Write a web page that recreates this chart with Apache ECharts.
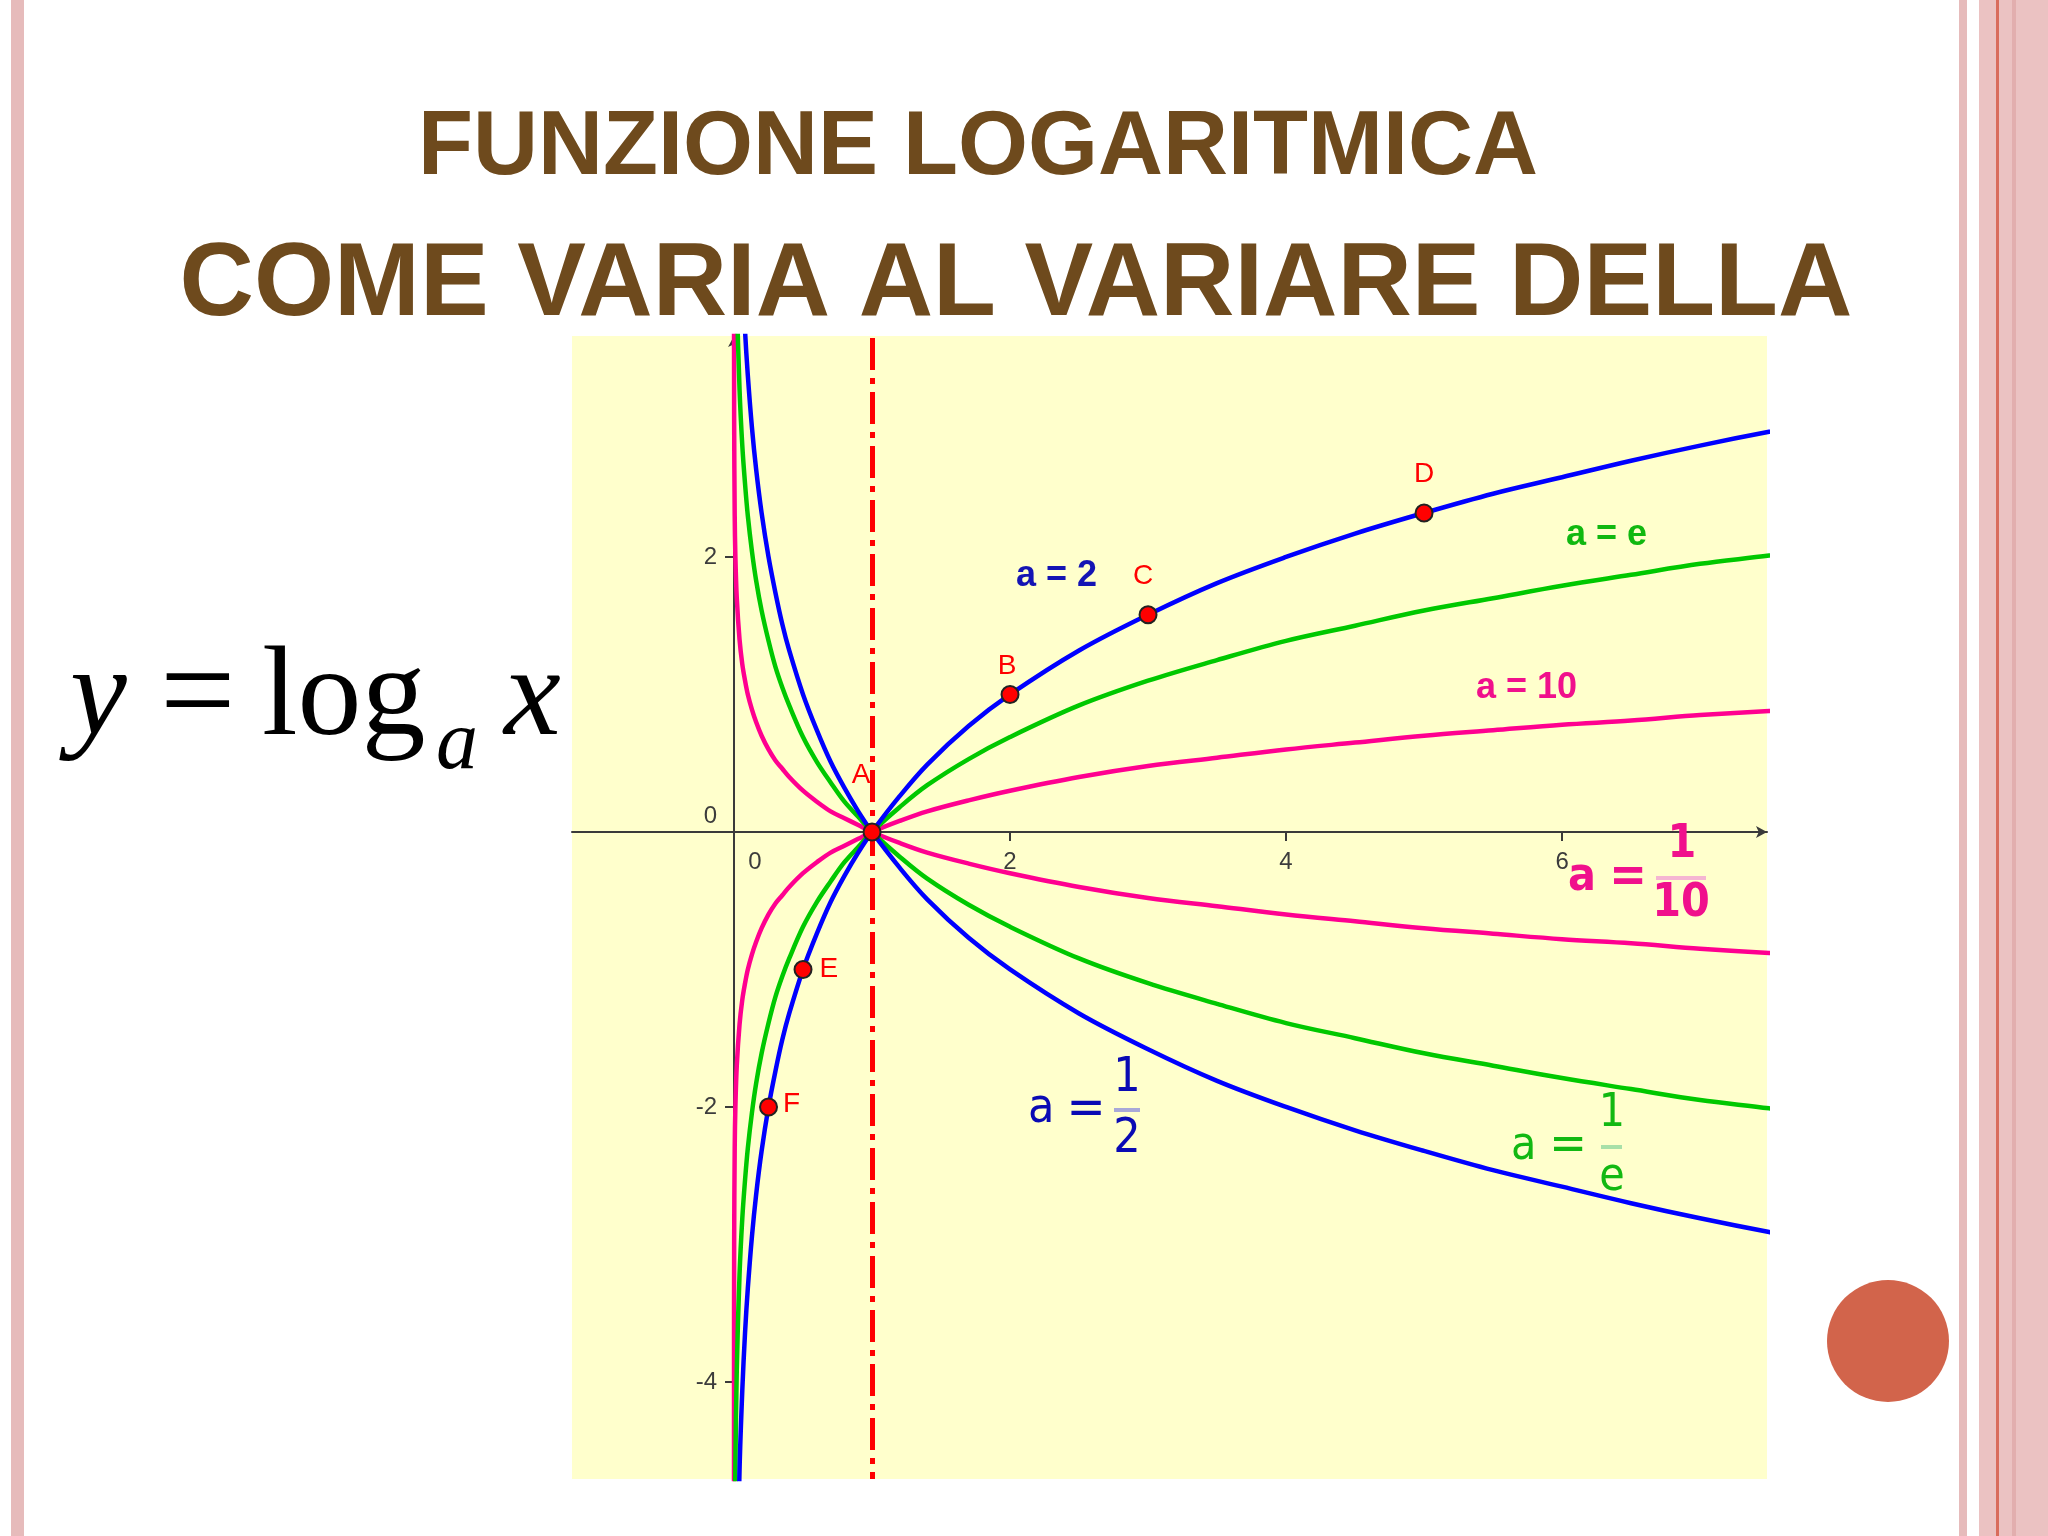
<!DOCTYPE html>
<html><head><meta charset="utf-8">
<script src="https://cdn.jsdelivr.net/npm/echarts@6/dist/echarts.min.js"></script>
<style>html,body{margin:0;padding:0;background:#fff}#c{width:2048px;height:1536px}</style>
</head><body><div id="c"></div>
<script>
// sample abscissas
const xs = [0.00001, 0.0001, 0.001, 0.005, 0.01, 0.02, 0.04, 0.06, 0.08, 0.1, 0.13, 0.16, 0.2, 0.25, 0.3, 0.35, 0.4, 0.5, 0.6, 0.7, 0.8, 0.9, 1, 1.2, 1.4, 1.7, 2, 2.5, 3, 3.5, 4, 4.5, 5, 5.5, 6, 6.5, 7, 7.5, 8];
// a = 2
const yBase2 = [-16.61, -13.29, -9.97, -7.64, -6.64, -5.64, -4.64, -4.06, -3.64, -3.32, -2.94, -2.64, -2.32, -2, -1.74, -1.51, -1.32, -1, -0.74, -0.51, -0.32, -0.15, 0, 0.26, 0.49, 0.77, 1, 1.32, 1.58, 1.81, 2, 2.17, 2.32, 2.46, 2.58, 2.70, 2.81, 2.91, 3];
// a = e
const yBaseE = [-11.51, -9.21, -6.91, -5.30, -4.61, -3.91, -3.22, -2.81, -2.53, -2.30, -2.04, -1.83, -1.61, -1.39, -1.20, -1.05, -0.92, -0.69, -0.51, -0.36, -0.22, -0.11, 0, 0.18, 0.34, 0.53, 0.69, 0.92, 1.10, 1.25, 1.39, 1.50, 1.61, 1.70, 1.79, 1.87, 1.95, 2.01, 2.08];
// a = 10
const yBase10 = [-5, -4, -3, -2.30, -2, -1.70, -1.40, -1.22, -1.10, -1, -0.89, -0.80, -0.70, -0.60, -0.52, -0.46, -0.40, -0.30, -0.22, -0.15, -0.10, -0.05, 0, 0.08, 0.15, 0.23, 0.30, 0.40, 0.48, 0.54, 0.60, 0.65, 0.70, 0.74, 0.78, 0.81, 0.85, 0.88, 0.90];
// a = 1/2
const yBaseHalf = [16.61, 13.29, 9.97, 7.64, 6.64, 5.64, 4.64, 4.06, 3.64, 3.32, 2.94, 2.64, 2.32, 2, 1.74, 1.51, 1.32, 1, 0.74, 0.51, 0.32, 0.15, 0, -0.26, -0.49, -0.77, -1, -1.32, -1.58, -1.81, -2, -2.17, -2.32, -2.46, -2.58, -2.70, -2.81, -2.91, -3];
// a = 1/e
const yBaseInvE = [11.51, 9.21, 6.91, 5.30, 4.61, 3.91, 3.22, 2.81, 2.53, 2.30, 2.04, 1.83, 1.61, 1.39, 1.20, 1.05, 0.92, 0.69, 0.51, 0.36, 0.22, 0.11, 0, -0.18, -0.34, -0.53, -0.69, -0.92, -1.10, -1.25, -1.39, -1.50, -1.61, -1.70, -1.79, -1.87, -1.95, -2.01, -2.08];
// a = 1/10
const yBaseTenth = [5, 4, 3, 2.30, 2, 1.70, 1.40, 1.22, 1.10, 1, 0.89, 0.80, 0.70, 0.60, 0.52, 0.46, 0.40, 0.30, 0.22, 0.15, 0.10, 0.05, 0, -0.08, -0.15, -0.23, -0.30, -0.40, -0.48, -0.54, -0.60, -0.65, -0.70, -0.74, -0.78, -0.81, -0.85, -0.88, -0.90];

const pointNames = ['A', 'B', 'C', 'D', 'E', 'F'];
const pointX = [1, 2, 3, 5, 0.5, 0.25];
const pointY = [0, 1, 1.58, 2.32, -1, -2];
const asymptoteX = [1];
const xTickValues = [0, 2, 4, 6];
const yTickValues = [-4, -2, 0, 2];
const xRange = [-1.174, 7.485];
const yRange = [-4.706, 3.607];

const BLUE = '#0000FF', GREEN = '#00C800', PINK = '#FF0090';
const pair = ys => xs.map((x, i) => [x, ys[i]]);
const curve = (name, ys, color) => ({
  name, type: 'line', data: pair(ys), showSymbol: false, smooth: 0.35, clip: true,
  lineStyle: { color, width: 4.5 }, z: 2, silent: true
});

const labelStyle = {
  A: { position: 'top', offset: [-11, -28] },
  B: { position: 'top', offset: [-3, 0] },
  C: { position: 'top', offset: [-5, -10] },
  D: { position: 'top', offset: [0, -10] },
  E: { position: 'right', offset: [2, 0] },
  F: { position: 'right', offset: [0, -3] }
};

// grid geometry (pixels)
const G = { left: 572, top: 336, width: 1195, height: 1143 };
// where the value 0 falls inside the grid, used to put each axis on the other's zero
const zeroX = G.left + (0 - xRange[0]) / (xRange[1] - xRange[0]) * G.width;
const zeroY = G.top + (yRange[1] - 0) / (yRange[1] - yRange[0]) * G.height;

const chart = echarts.init(document.getElementById('c'), null, { renderer: 'canvas' });
const tickFont = '"Liberation Sans", Arial, sans-serif';
const axisColor = '#3a3a3a';
const tickLabelColor = '#3c3c3c';

const T = (x, y, text, font, fill, align) => ({
  type: 'text', x, y, z: 20,
  style: { text, font, fill, align: align || 'left', verticalAlign: 'middle' }
});
const R = (x, y, w, h, fill) => ({ type: 'rect', shape: { x, y, width: w, height: h }, style: { fill }, z: 20 });

const narrow = '"Liberation Sans Narrow", "DejaVu Sans Condensed", sans-serif';
const serif = '"Liberation Serif", "Times New Roman", serif';

const graphic = [
  // slide decorations
  R(11, 0, 13, 1536, '#E6BBBB'),
  R(1959, 0, 8, 1536, '#E6BBBB'),
  R(1979, 0, 69, 1536, '#EBC2C2'),
  R(1996, 0, 3, 1536, '#D96C5C'),
  R(2012, 0, 4, 1536, '#E2AEAE'),
  { type: 'circle', shape: { cx: 1888, cy: 1341, r: 61 }, style: { fill: '#D2644B' }, z: 20 },
  // titles
  T(978, 149, 'FUNZIONE LOGARITMICA', 'bold 90px "Liberation Sans", Arial, sans-serif', '#6E4A1D', 'center'),
  T(1016, 287, 'COME VARIA AL VARIARE DELLA', 'bold 103px "Liberation Sans", Arial, sans-serif', '#6E4A1D', 'center'),
  // formula
  T(70, 700, 'y', 'italic 128px ' + serif, '#000'),
  T(160, 700, '=', '134px ' + serif, '#000'),
  T(262, 700, 'log', '128px ' + serif, '#000'),
  T(436, 746, 'a', 'italic 84px ' + serif, '#000'),
  T(504, 700, 'x', 'italic 128px ' + serif, '#000'),
  // curve labels
  T(1016, 576, 'a = 2', 'bold 36px "Liberation Sans", Arial, sans-serif', '#1414B4'),
  T(1566, 535, 'a = e', 'bold 36px "Liberation Sans", Arial, sans-serif', '#10B810'),
  T(1476, 688, 'a = 10', 'bold 36px "Liberation Sans", Arial, sans-serif', '#F0108C'),
  // a = 1/2
  T(1028, 1110, 'a', '48px ' + narrow, '#0A0AB4'),
  T(1086, 1110, '=', '52px ' + narrow, '#0A0AB4', 'center'),
  T(1127, 1079, '1', '48px ' + narrow, '#0A0AB4', 'center'),
  R(1114, 1108, 26, 4, '#A8A8D8'),
  T(1127, 1140, '2', '48px ' + narrow, '#0A0AB4', 'center'),
  // a = 1/e
  T(1511, 1147, 'a', '46px ' + narrow, '#12B812'),
  T(1568, 1147, '=', '50px ' + narrow, '#12B812', 'center'),
  T(1612, 1114, '1', '46px ' + narrow, '#12B812', 'center'),
  R(1601, 1145, 21, 4, '#A8E0A8'),
  T(1612, 1178, 'e', '46px ' + narrow, '#12B812', 'center'),
  // a = 1/10
  T(1568, 878, 'a', 'bold 46px ' + narrow, '#F0108C'),
  T(1628, 878, '=', 'bold 50px ' + narrow, '#F0108C', 'center'),
  T(1682, 845, '1', 'bold 46px ' + narrow, '#F0108C', 'center'),
  R(1656, 876, 50, 4, '#F5B5D2'),
  T(1681, 904, '10', 'bold 46px ' + narrow, '#F0108C', 'center')
];

chart.setOption({
  animation: false,
  backgroundColor: '#FFFFFF',
  grid: { left: G.left, top: G.top, width: G.width, height: G.height, show: true, backgroundColor: '#FFFFCC', borderWidth: 0 },
  xAxis: {
    type: 'value', min: xRange[0], max: xRange[1], position: 'bottom',
    offset: -(G.top + G.height - zeroY),
    splitLine: { show: false },
    axisLine: { onZero: false, symbol: ['none', 'arrow'], symbolSize: [9, 11], lineStyle: { color: axisColor, width: 2 } },
    axisTick: { show: true, length: 9, customValues: xTickValues.filter(v => v !== 0), lineStyle: { color: axisColor, width: 2 } },
    axisLabel: {
      customValues: xTickValues, margin: 18, color: tickLabelColor, fontSize: 24, fontFamily: tickFont,
      formatter: v => v === 0 ? '{z|0}' : String(v),
      rich: { z: { padding: [0, 0, 0, 42], color: tickLabelColor, fontSize: 24, fontFamily: tickFont } }
    }
  },
  yAxis: {
    type: 'value', min: yRange[0], max: yRange[1], position: 'left',
    offset: -(zeroX - G.left),
    splitLine: { show: false },
    axisLine: { onZero: false, symbol: ['none', 'arrow'], symbolSize: [9, 11], lineStyle: { color: axisColor, width: 2 } },
    axisTick: { show: true, length: 9, customValues: yTickValues.filter(v => v !== 0), lineStyle: { color: axisColor, width: 2 } },
    axisLabel: {
      customValues: yTickValues, margin: 17, color: tickLabelColor, fontSize: 24, fontFamily: tickFont,
      formatter: v => v === 0 ? '{z|0}' : String(v),
      rich: { z: { padding: [0, 0, 32, 0], color: tickLabelColor, fontSize: 24, fontFamily: tickFont } }
    }
  },
  series: [
    curve('a = 10', yBase10, PINK),
    curve('a = 1/10', yBaseTenth, PINK),
    curve('a = e', yBaseE, GREEN),
    curve('a = 1/e', yBaseInvE, GREEN),
    curve('a = 2', yBase2, BLUE),
    curve('a = 1/2', yBaseHalf, BLUE),
    {
      name: 'asintoto', type: 'line', data: [], z: 4, silent: true,
      markLine: {
        silent: true, symbol: 'none', label: { show: false },
        lineStyle: { color: '#FF0000', width: 5, type: [32, 8, 6, 8], dashOffset: 25 },
        data: asymptoteX.map(v => ({ xAxis: v }))
      }
    },
    {
      name: 'punti', type: 'scatter', z: 6, symbolSize: 17, silent: true,
      itemStyle: { color: '#FF0000', borderColor: '#222', borderWidth: 2, opacity: 1 },
      label: { show: true, formatter: p => p.name, color: '#FF0000', fontSize: 28, fontFamily: tickFont, distance: 5 },
      data: pointNames.map((n, i) => ({ name: n, value: [pointX[i], pointY[i]], label: labelStyle[n] }))
    }
  ],
  graphic
});
</script>
</body></html>
